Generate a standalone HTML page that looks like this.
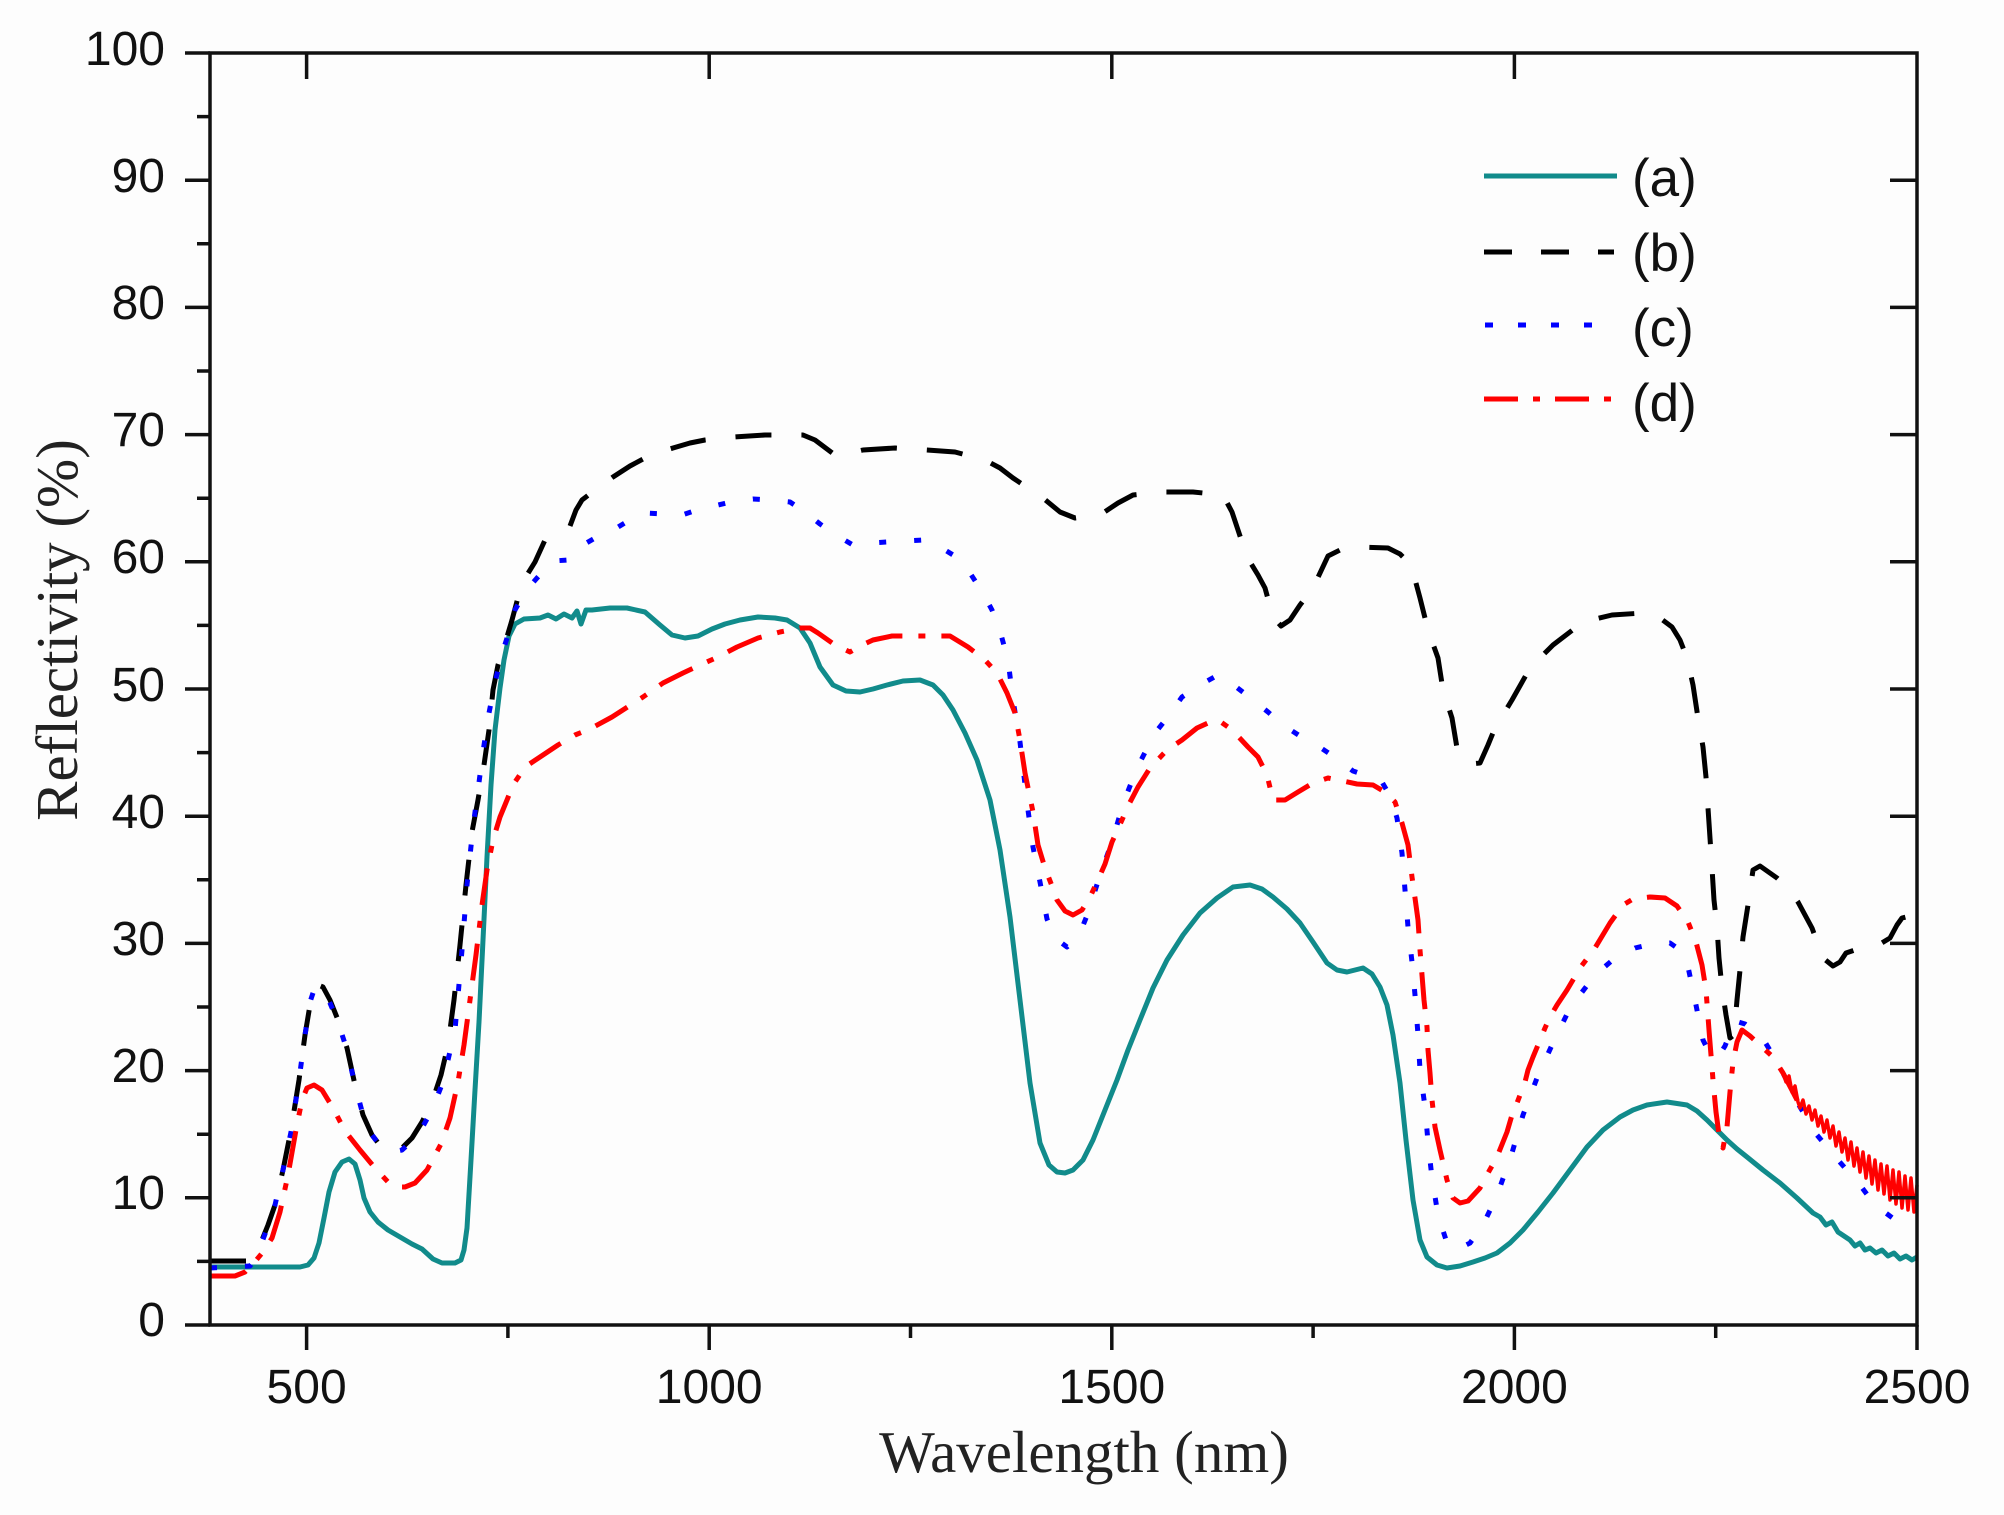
<!DOCTYPE html>
<html><head><meta charset="utf-8"><style>
html,body{margin:0;padding:0;background:#fff;}
svg{display:block;}
</style></head><body>
<svg width="2004" height="1515" viewBox="0 0 2004 1515" xmlns="http://www.w3.org/2000/svg">
<rect x="0" y="0" width="2004" height="1515" fill="#fdfdfd"/>
<g fill="none" stroke-linejoin="round">
<!-- teal (a) -->
<path stroke="#118b8b" stroke-width="5" d="M210,1267 L300,1267 L308,1265 L314,1258 L319,1243 L324,1218 L329,1192 L335,1172 L342,1162 L349,1159 L355,1164 L360,1180 L364,1198 L370,1212 L378,1222 L388,1230 L400,1237 L412,1244 L422,1249 L433,1259 L442,1263 L455,1263 L461,1260 L464,1250 L467,1228 L471,1160 L475,1090 L479,1022 L483,940 L487,857 L491,785 L495,730 L500,688 L504,660 L509,636 L515,624 L524,619 L540,618 L548,615 L556,619 L564,614 L572,618 L577,611 L581,624 L586,610 L592,610 L610,608 L627,608 L645,612 L660,625 L672,635 L685,638 L698,636 L712,629 L725,624 L740,620 L758,617 L775,618 L787,620 L800,628 L810,643 L820,667 L833,685 L846,691 L860,692 L873,689 L887,685 L903,681 L920,680 L933,685 L943,695 L953,710 L965,733 L977,760 L990,800 L1000,850 L1010,917 L1020,1000 L1030,1083 L1040,1143 L1049,1165 L1057,1172 L1065,1173 L1073,1170 L1083,1160 L1093,1140 L1105,1110 L1117,1080 L1128,1050 L1140,1020 L1153,988 L1167,960 L1183,935 L1200,913 L1217,898 L1233,887 L1250,885 L1262,889 L1273,897 L1287,909 L1300,923 L1313,942 L1327,963 L1337,970 L1347,972 L1355,970 L1363,968 L1372,974 L1380,987 L1387,1005 L1393,1035 L1400,1083 L1406,1140 L1413,1200 L1420,1240 L1427,1257 L1437,1265 L1447,1268 L1460,1266 L1473,1262 L1485,1258 L1497,1253 L1510,1243 L1523,1230 L1538,1212 L1553,1193 L1570,1170 L1587,1147 L1603,1130 L1620,1117 L1633,1110 L1647,1105 L1667,1102 L1687,1105 L1697,1111 L1707,1120 L1717,1130 L1727,1140 L1737,1149 L1747,1157 L1763,1170 L1780,1183 L1797,1198 L1813,1213 L1820,1217 L1826,1225 L1832,1222 L1838,1232 L1844,1236 L1850,1240 L1855,1246 L1860,1243 L1865,1250 L1870,1248 L1876,1253 L1882,1250 L1888,1256 L1894,1253 L1900,1259 L1906,1256 L1912,1260 L1917,1257"/>
<!-- black dashed (b) -->
<path stroke="#000" stroke-width="5" stroke-dasharray="36 30" d="M210,1261 L250,1261 L256,1255 L262,1240 L268,1225 L275,1205 L283,1170 L291,1130 L299,1080 L305,1035 L310,1005 L314,990 L318,985 L323,987 L330,1000 L338,1020 L347,1048 L355,1085 L363,1115 L372,1135 L382,1148 L392,1152 L402,1148 L412,1138 L422,1122 L432,1102 L441,1075 L448,1045 L454,1000 L460,945 L466,885 L472,832 L478,800 L484,765 L489,730 L493,690 L498,665 L504,647 L512,620 L520,590 L527,575 L535,562 L545,540 L560,533 L570,526 L576,510 L582,500 L595,490 L613,477 L630,466 L645,458 L660,452 L673,448 L690,443 L705,440 L733,437 L765,435 L803,435 L815,440 L835,455 L850,453 L863,450 L895,448 L927,450 L955,452 L985,460 L1000,468 L1013,478 L1028,488 L1043,498 L1060,512 L1075,518 L1090,516 L1103,513 L1118,503 L1133,495 L1162,492 L1193,492 L1223,495 L1232,512 L1238,530 L1247,557 L1258,575 L1265,588 L1273,617 L1281,626 L1290,620 L1300,605 L1313,588 L1328,556 L1340,550 L1357,547 L1388,548 L1400,554 L1408,562 L1413,572 L1420,598 L1428,630 L1438,658 L1443,690 L1452,718 L1457,748 L1463,760 L1470,764 L1480,763 L1488,745 L1495,728 L1512,700 L1530,668 L1553,645 L1583,622 L1612,615 L1643,613 L1660,618 L1672,627 L1680,640 L1687,658 L1693,685 L1698,718 L1703,747 L1706,777 L1708,808 L1710,838 L1712,868 L1714,900 L1717,927 L1719,958 L1722,988 L1726,1015 L1730,1038 L1734,1035 L1737,1000 L1740,970 L1743,937 L1748,905 L1753,870 L1760,866 L1777,878 L1788,888 L1798,902 L1812,928 L1823,958 L1833,966 L1840,962 L1846,953 L1855,950 L1868,948 L1880,944 L1890,938 L1897,925 L1902,918 L1910,916 L1917,912"/>
<!-- blue dotted (c) -->
<path stroke="#0000ff" stroke-width="5" stroke-dasharray="7 28" d="M210,1268 L250,1266 L256,1258 L262,1242 L268,1226 L275,1205 L283,1170 L291,1132 L299,1080 L305,1035 L310,1002 L314,990 L318,987 L323,990 L330,1003 L338,1022 L347,1050 L355,1085 L363,1115 L372,1135 L382,1148 L392,1152 L402,1150 L412,1141 L422,1128 L432,1110 L441,1087 L448,1060 L455,1030 L462,950 L467,885 L473,827 L478,790 L483,752 L488,718 L494,688 L500,660 L508,635 L515,610 L525,592 L537,578 L553,561 L568,560 L578,553 L583,545 L595,538 L610,532 L628,521 L645,513 L665,514 L682,515 L700,509 L718,505 L735,501 L753,499 L770,500 L790,502 L805,512 L820,524 L836,535 L853,545 L870,543 L887,542 L905,541 L923,540 L940,547 L958,558 L970,573 L983,593 L992,610 L1000,631 L1008,660 L1013,700 L1020,742 L1028,810 L1033,847 L1040,882 L1047,919 L1055,938 L1067,947 L1078,938 L1088,913 L1100,875 L1112,842 L1123,804 L1137,768 L1155,733 L1167,718 L1182,697 L1200,685 L1218,675 L1235,686 L1253,700 L1268,712 L1283,725 L1300,736 L1318,746 L1336,758 L1353,771 L1368,776 L1382,782 L1390,796 L1397,818 L1402,853 L1405,890 L1408,927 L1412,962 L1415,995 L1418,1035 L1420,1070 L1425,1107 L1428,1142 L1432,1178 L1438,1215 L1447,1243 L1456,1250 L1470,1243 L1483,1225 L1492,1206 L1500,1187 L1512,1153 L1523,1115 L1537,1078 L1552,1045 L1570,1008 L1595,975 L1615,958 L1635,948 L1652,944 L1670,943 L1680,950 L1687,962 L1695,1000 L1703,1040 L1710,1054 L1718,1057 L1725,1046 L1735,1021 L1745,1024 L1762,1037 L1780,1067 L1800,1107 L1817,1135 L1838,1160 L1860,1185 L1875,1205 L1898,1222 L1917,1226"/>
<!-- red dash-dot (d) -->
<path stroke="#ff0000" stroke-width="5" stroke-dasharray="37 16 7 16" d="M210,1276 L235,1276 L245,1272 L253,1264 L263,1252 L272,1238 L280,1212 L288,1175 L296,1130 L302,1100 L307,1088 L314,1085 L322,1090 L333,1108 L345,1131 L360,1150 L375,1168 L388,1182 L396,1187 L405,1187 L415,1183 L427,1170 L441,1144 L450,1118 L458,1082 L464,1045 L470,1000 L476,955 L482,905 L487,870 L493,840 L500,817 L507,800 L513,785 L525,767 L540,757 L558,745 L575,735 L590,729 L612,717 L643,697 L663,683 L683,673 L700,665 L718,657 L737,647 L758,638 L780,632 L800,628 L810,628 L818,633 L835,645 L850,652 L862,645 L873,640 L892,636 L928,636 L950,636 L968,647 L985,660 L997,673 L1007,693 L1015,713 L1020,740 L1025,773 L1033,812 L1038,845 L1045,868 L1052,886 L1057,900 L1065,911 L1073,915 L1082,910 L1090,897 L1098,880 L1105,864 L1112,842 L1122,820 L1128,806 L1138,787 L1150,768 L1167,750 L1182,740 L1197,728 L1208,723 L1218,720 L1228,727 L1235,733 L1248,747 L1258,757 L1267,775 L1273,800 L1285,800 L1298,792 L1313,783 L1328,778 L1343,781 L1357,784 L1373,785 L1385,792 L1395,802 L1402,823 L1408,845 L1412,877 L1415,898 L1418,920 L1420,950 L1422,975 L1424,1000 L1427,1027 L1428,1050 L1430,1073 L1432,1100 L1435,1127 L1440,1150 L1447,1180 L1453,1198 L1460,1203 L1468,1201 L1480,1188 L1488,1173 L1497,1157 L1507,1132 L1512,1115 L1517,1103 L1525,1082 L1528,1070 L1533,1057 L1545,1028 L1550,1017 L1557,1005 L1567,990 L1580,968 L1595,948 L1610,923 L1623,905 L1633,899 L1650,897 L1665,898 L1677,906 L1688,922 L1696,942 L1702,965 L1706,990 L1709,1030 L1713,1080 L1716,1112 L1720,1142 L1723,1148 L1727,1127 L1730,1092 L1733,1062 L1737,1042 L1742,1030 L1750,1036 L1762,1047 L1773,1057 L1783,1073 L1797,1100 L1800,1108"/>
<path stroke="#ff0000" stroke-width="3.5" d="M1783,1073 L1786,1082 L1789,1076 L1792,1092 L1795,1086 L1798,1102 L1800,1108 L1803,1100 L1806,1114 L1809,1106 L1812,1120 L1815,1110 L1818,1126 L1821,1116 L1824,1132 L1827,1120 L1830,1138 L1833,1126 L1836,1146 L1839,1132 L1842,1152 L1845,1138 L1848,1160 L1851,1142 L1854,1166 L1857,1148 L1860,1172 L1863,1152 L1866,1178 L1869,1156 L1872,1184 L1875,1160 L1878,1190 L1881,1164 L1884,1194 L1887,1166 L1890,1200 L1893,1170 L1896,1204 L1899,1172 L1902,1208 L1905,1176 L1908,1210 L1911,1178 L1914,1212 L1917,1185"/>
</g>
<!-- axes -->
<g stroke="#111" stroke-width="3.5" fill="none">
<rect x="210" y="53" width="1707" height="1272"/>
<path d="M185,1325H210 M185,1197.8H210 M185,1070.6H210 M185,943.4H210 M185,816.2H210 M185,689H210 M185,561.8H210 M185,434.6H210 M185,307.4H210 M185,180.2H210 M185,53H210"/>
<path d="M197,1261.4H210 M197,1134.2H210 M197,1007H210 M197,879.8H210 M197,752.6H210 M197,625.4H210 M197,498.2H210 M197,371H210 M197,243.8H210 M197,116.6H210"/>
<path d="M1890,1197.8H1917 M1890,1070.6H1917 M1890,943.4H1917 M1890,816.2H1917 M1890,689H1917 M1890,561.8H1917 M1890,434.6H1917 M1890,307.4H1917 M1890,180.2H1917"/>
<path d="M306.6,1325V1350 M709.2,1325V1350 M1111.8,1325V1350 M1514.4,1325V1350 M1917,1325V1350"/>
<path d="M507.9,1325V1338 M910.5,1325V1338 M1313.1,1325V1338 M1715.7,1325V1338"/>
<path d="M306.6,53V79 M709.2,53V79 M1111.8,53V79 M1514.4,53V79"/>
</g>
<g font-family="'Liberation Sans', Arial, sans-serif" font-size="48" fill="#111" text-anchor="end">
<text x="165" y="1336">0</text>
<text x="165" y="1209">10</text>
<text x="165" y="1082">20</text>
<text x="165" y="955">30</text>
<text x="165" y="828">40</text>
<text x="165" y="701">50</text>
<text x="165" y="573">60</text>
<text x="165" y="446">70</text>
<text x="165" y="319">80</text>
<text x="165" y="192">90</text>
<text x="165" y="65">100</text>
</g>
<g font-family="'Liberation Sans', Arial, sans-serif" font-size="48" fill="#111" text-anchor="middle">
<text x="306.6" y="1403">500</text>
<text x="709.2" y="1403">1000</text>
<text x="1111.8" y="1403">1500</text>
<text x="1514.4" y="1403">2000</text>
<text x="1917" y="1403">2500</text>
</g>
<text x="1084" y="1472" font-family="'Liberation Serif', 'Times New Roman', serif" font-size="59" fill="#222" text-anchor="middle">Wavelength (nm)</text>
<text transform="translate(77,630) rotate(-90)" x="0" y="0" font-family="'Liberation Serif', 'Times New Roman', serif" font-size="59" fill="#222" text-anchor="middle">Reflectivity (%)</text>
<g fill="none">
<path d="M1484,176H1617" stroke="#118b8b" stroke-width="5"/>
<path d="M1484,252H1614" stroke="#000" stroke-width="5" stroke-dasharray="28 29"/>
<path d="M1485,325H1597" stroke="#0000ff" stroke-width="5" stroke-dasharray="8 25"/>
<path d="M1484,399H1615" stroke="#ff0000" stroke-width="5" stroke-dasharray="34 15 7 15"/>
</g>
<g font-family="'Liberation Sans', Arial, sans-serif" font-size="53" fill="#111">
<text x="1632" y="196">(a)</text>
<text x="1632" y="271">(b)</text>
<text x="1632" y="346">(c)</text>
<text x="1632" y="421">(d)</text>
</g>
</svg>
</body></html>
